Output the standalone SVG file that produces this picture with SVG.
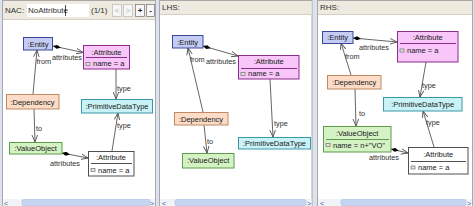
<svg xmlns="http://www.w3.org/2000/svg" width="474" height="206" viewBox="0 0 474 206">
<style>
text{font-family:"Liberation Sans",Arial,sans-serif;font-size:7.5px;fill:#202020}
.c{text-anchor:middle}
.hd{font-size:8px;fill:#303030}
.lbl{font-size:7.3px;fill:#303030}
.panel{fill:#fff;stroke:#a8a8a8;stroke-width:1}
.hbar{fill:#eeeadf}
.ent{fill:#c4ccf4;stroke:#3c4898}
.att{fill:#f8c6f8;stroke:#8c2c8c}
.pdt{fill:#c8f2f6;stroke:#3c98a8}
.dep{fill:#fcdcc6;stroke:#c08a64}
.vo{fill:#d4f2c4;stroke:#5c9c4c}
.wat{fill:#fff;stroke:#505050}
.sep{stroke-width:1}
.edge{fill:none;stroke:#555;stroke-width:0.9}
.ico{fill:#e4e4e4;stroke:#707070;stroke-width:0.7}
.track{fill:#f2f3f8}
.thumb{fill:#c6d6f2;stroke:#a8bce4;stroke-width:0.6}
.sbtn{font-size:7px;fill:#4060a0}
.btn{fill:#f6f6f6;stroke:#b8b8b8;stroke-width:0.7}
</style>
<defs>
<marker id="arr" viewBox="0 0 10 10" refX="10" refY="5" markerWidth="7" markerHeight="7" orient="auto" markerUnits="userSpaceOnUse"><path d="M0,1 L10,5 L0,9" fill="none" stroke="#555" stroke-width="1.3"/></marker>
<marker id="dia" viewBox="0 0 12 6" refX="0" refY="3" markerWidth="8" markerHeight="4" orient="auto" markerUnits="userSpaceOnUse"><path d="M0,3 L6,0 L12,3 L6,6 Z" fill="#000"/></marker>
</defs>
<rect x="0" y="0" width="474" height="206" fill="#dde3ee"/>
<!-- panels -->
<g id="panel-nac">
<rect class="panel" x="2.5" y="0.5" width="153" height="206"/>
<rect class="hbar" x="3" y="1" width="152" height="18"/>
<line x1="3" y1="19.5" x2="155" y2="19.5" stroke="#d4d0c4"/>
<text class="hd" x="5" y="13">NAC:</text>
<rect x="27" y="4" width="62" height="13" fill="#fff"/>
<text class="hd" x="28" y="13">NoAttribute</text>
<line x1="65.5" y1="5" x2="65.5" y2="16" stroke="#000" stroke-width="0.7"/>
<text class="hd" x="91" y="13">(1/1)</text>
<rect class="btn" x="112.5" y="4.5" width="9" height="12"/>
<text class="hd c" x="117" y="13" style="fill:#b0b0b0">&lt;</text>
<rect class="btn" x="123.5" y="4.5" width="9" height="12"/>
<text class="hd c" x="128" y="13" style="fill:#b0b0b0">&gt;</text>
<rect class="btn" x="135.5" y="4.5" width="9" height="12" style="stroke:#707070"/>
<text class="hd c" x="140" y="13" style="font-weight:bold;fill:#202020">+</text>
<rect class="btn" x="146.5" y="4.5" width="8" height="12" style="stroke:#707070"/>
<text class="hd c" x="150.5" y="13" style="font-weight:bold;fill:#202020">-</text>
<rect class="track" x="3" y="199" width="152" height="7"/>
<rect class="thumb" x="22" y="199.5" width="128" height="6" rx="1.5"/>
<text class="sbtn" x="4" y="205.5">&lt;</text>
<text class="sbtn" x="150" y="205.5">&gt;</text>
</g>
<g id="panel-lhs">
<rect class="panel" x="159.5" y="0.5" width="152.5" height="206"/>
<rect class="hbar" x="160" y="1" width="151.5" height="13"/>
<line x1="160" y1="14.5" x2="311.5" y2="14.5" stroke="#d4d0c4"/>
<text class="hd" x="162" y="10">LHS:</text>
<rect class="track" x="160" y="199" width="151.5" height="7"/>
<rect class="thumb" x="175" y="199.5" width="131" height="6" rx="1.5"/>
<text class="sbtn" x="162" y="205.5">&lt;</text>
<text class="sbtn" x="307" y="205.5">&gt;</text>
</g>
<g id="panel-rhs">
<rect class="panel" x="317.5" y="0.5" width="155" height="206"/>
<rect class="hbar" x="318" y="1" width="154" height="13"/>
<line x1="318" y1="14.5" x2="472" y2="14.5" stroke="#d4d0c4"/>
<text class="hd" x="320" y="10">RHS:</text>
<rect class="track" x="318" y="199" width="154" height="7"/>
<rect class="thumb" x="341" y="199.5" width="125" height="6" rx="1.5"/>
<text class="sbtn" x="320" y="205.5">&lt;</text>
<text class="sbtn" x="467" y="205.5">&gt;</text>
</g>
<!-- connectors -->
<g id="connectors">
<line class="edge" x1="53" y1="46" x2="83" y2="52.5" marker-start="url(#dia)" marker-end="url(#arr)"/>
<line class="edge" x1="33" y1="94" x2="37" y2="50" marker-end="url(#arr)"/>
<line class="edge" x1="34" y1="109" x2="35" y2="142" marker-end="url(#arr)"/>
<line class="edge" x1="116" y1="69" x2="116" y2="99" marker-end="url(#arr)"/>
<line class="edge" x1="112" y1="151" x2="118" y2="113" marker-end="url(#arr)"/>
<line class="edge" x1="62" y1="153" x2="88" y2="158" marker-start="url(#dia)" marker-end="url(#arr)"/>
<text class="lbl" x="52" y="60">attributes</text>
<text class="lbl" x="36.5" y="63.5">from</text>
<text class="lbl" x="36" y="131">to</text>
<text class="lbl" x="117" y="91">type</text>
<text class="lbl" x="117" y="128">type</text>
<text class="lbl" x="50" y="166">attributes</text>

<line class="edge" x1="203" y1="46" x2="238" y2="56" marker-start="url(#dia)" marker-end="url(#arr)"/>
<line class="edge" x1="203" y1="112" x2="188" y2="48" marker-end="url(#arr)"/>
<line class="edge" x1="204" y1="125" x2="207" y2="153" marker-end="url(#arr)"/>
<line class="edge" x1="270" y1="79" x2="273" y2="137" marker-end="url(#arr)"/>
<text class="lbl" x="206" y="64">attributes</text>
<text class="lbl" x="190" y="62">from</text>
<text class="lbl" x="207" y="144">to</text>
<text class="lbl" x="274" y="126">type</text>

<line class="edge" x1="353" y1="38" x2="397" y2="42" marker-start="url(#dia)" marker-end="url(#arr)"/>
<line class="edge" x1="351" y1="75" x2="341" y2="43" marker-end="url(#arr)"/>
<line class="edge" x1="355" y1="89" x2="356" y2="126" marker-end="url(#arr)"/>
<line class="edge" x1="426" y1="62" x2="420" y2="97" marker-end="url(#arr)"/>
<line class="edge" x1="434" y1="147" x2="423" y2="111" marker-end="url(#arr)"/>
<line class="edge" x1="391" y1="149" x2="408" y2="153" marker-start="url(#dia)" marker-end="url(#arr)"/>
<text class="lbl" x="359" y="50">attributes</text>
<text class="lbl" x="345" y="59">from</text>
<text class="lbl" x="359" y="116">to</text>
<text class="lbl" x="422" y="88">type</text>
<text class="lbl" x="426" y="125">type</text>
<text class="lbl" x="369" y="160">attributes</text>
</g>
<!-- NAC nodes -->
<g id="nac-entity"><rect class="ent" x="23.5" y="37.5" width="29" height="12.5"/><text class="c" x="38" y="46.5">:Entity</text></g>
<g id="nac-attribute1"><rect class="att" x="83.5" y="45.5" width="46" height="23.5"/><text class="c" x="106.5" y="54.5">:Attribute</text><line class="sep" x1="86" y1="57.5" x2="127" y2="57.5" stroke="#8c2c8c"/><rect class="ico" x="86" y="62.5" width="4" height="3"/><text x="93" y="66">name = a</text></g>
<g id="nac-pdt"><rect class="pdt" x="81.5" y="99.5" width="71" height="13.5"/><text class="c" x="117" y="109">:PrimitiveDataType</text></g>
<g id="nac-dependency"><rect class="dep" x="6.5" y="94.5" width="52.5" height="14.5"/><text class="c" x="32.5" y="104.5">:Dependency</text></g>
<g id="nac-valueobject"><rect class="vo" x="9.5" y="142.5" width="52.5" height="11.5"/><text class="c" x="35.7" y="151">:ValueObject</text></g>
<g id="nac-attribute2"><rect class="wat" x="88.5" y="151.5" width="45.5" height="24.5"/><text class="c" x="111" y="160">:Attribute</text><line class="sep" x1="91" y1="163.5" x2="132" y2="163.5" stroke="#505050"/><rect class="ico" x="91" y="168.5" width="4" height="3"/><text x="98" y="172.5">name = a</text></g>
<!-- LHS nodes -->
<g id="lhs-entity"><rect class="ent" x="172.5" y="35.5" width="30.5" height="12.5"/><text class="c" x="187.7" y="44.5">:Entity</text></g>
<g id="lhs-attribute"><rect class="att" x="238.5" y="55.5" width="60.5" height="23.5"/><text class="c" x="268.7" y="64">:Attribute</text><line class="sep" x1="241" y1="68.5" x2="297" y2="68.5" stroke="#8c2c8c"/><rect class="ico" x="241" y="72.5" width="4" height="3"/><text x="248" y="76">name = a</text></g>
<g id="lhs-dependency"><rect class="dep" x="174.5" y="112.5" width="53.5" height="12.5"/><text class="c" x="201" y="121.5">:Dependency</text></g>
<g id="lhs-pdt"><rect class="pdt" x="238.5" y="137.5" width="72" height="11.5"/><text class="c" x="274.5" y="146">:PrimitiveDataType</text></g>
<g id="lhs-valueobject"><rect class="vo" x="182.5" y="153.5" width="51.5" height="14.5"/><text class="c" x="208.2" y="163">:ValueObject</text></g>
<!-- RHS nodes -->
<g id="rhs-entity"><rect class="ent" x="322.5" y="31.5" width="30.5" height="12"/><text class="c" x="337.7" y="40.3">:Entity</text></g>
<g id="rhs-attribute1"><rect class="att" x="397.5" y="31.5" width="60.5" height="30.5"/><text class="c" x="427.7" y="40.3">:Attribute</text><line class="sep" x1="400" y1="43.5" x2="456" y2="43.5" stroke="#8c2c8c"/><rect class="ico" x="400" y="49" width="4" height="3"/><text x="407" y="52.5">name = a</text></g>
<g id="rhs-dependency"><rect class="dep" x="327.5" y="75.5" width="53.5" height="13.5"/><text class="c" x="354.2" y="85">:Dependency</text></g>
<g id="rhs-pdt"><rect class="pdt" x="383.5" y="97.5" width="78.5" height="13.5"/><text class="c" x="422.7" y="107">:PrimitiveDataType</text></g>
<g id="rhs-valueobject"><rect class="vo" x="323.5" y="126.5" width="67.5" height="25.5"/><text class="c" x="357.2" y="135.5">:ValueObject</text><line class="sep" x1="326" y1="139.5" x2="389" y2="139.5" stroke="#5c9c4c"/><rect class="ico" x="326" y="143.5" width="4" height="3"/><text x="333" y="147.5">name = n+"VO"</text></g>
<g id="rhs-attribute2"><rect class="wat" x="408.5" y="147.5" width="59.5" height="26.5"/><text class="c" x="438.2" y="157">:Attribute</text><line class="sep" x1="411" y1="161.5" x2="466" y2="161.5" stroke="#505050"/><rect class="ico" x="411" y="166" width="4" height="3"/><text x="418" y="169.5">name = a</text></g>
</svg>
